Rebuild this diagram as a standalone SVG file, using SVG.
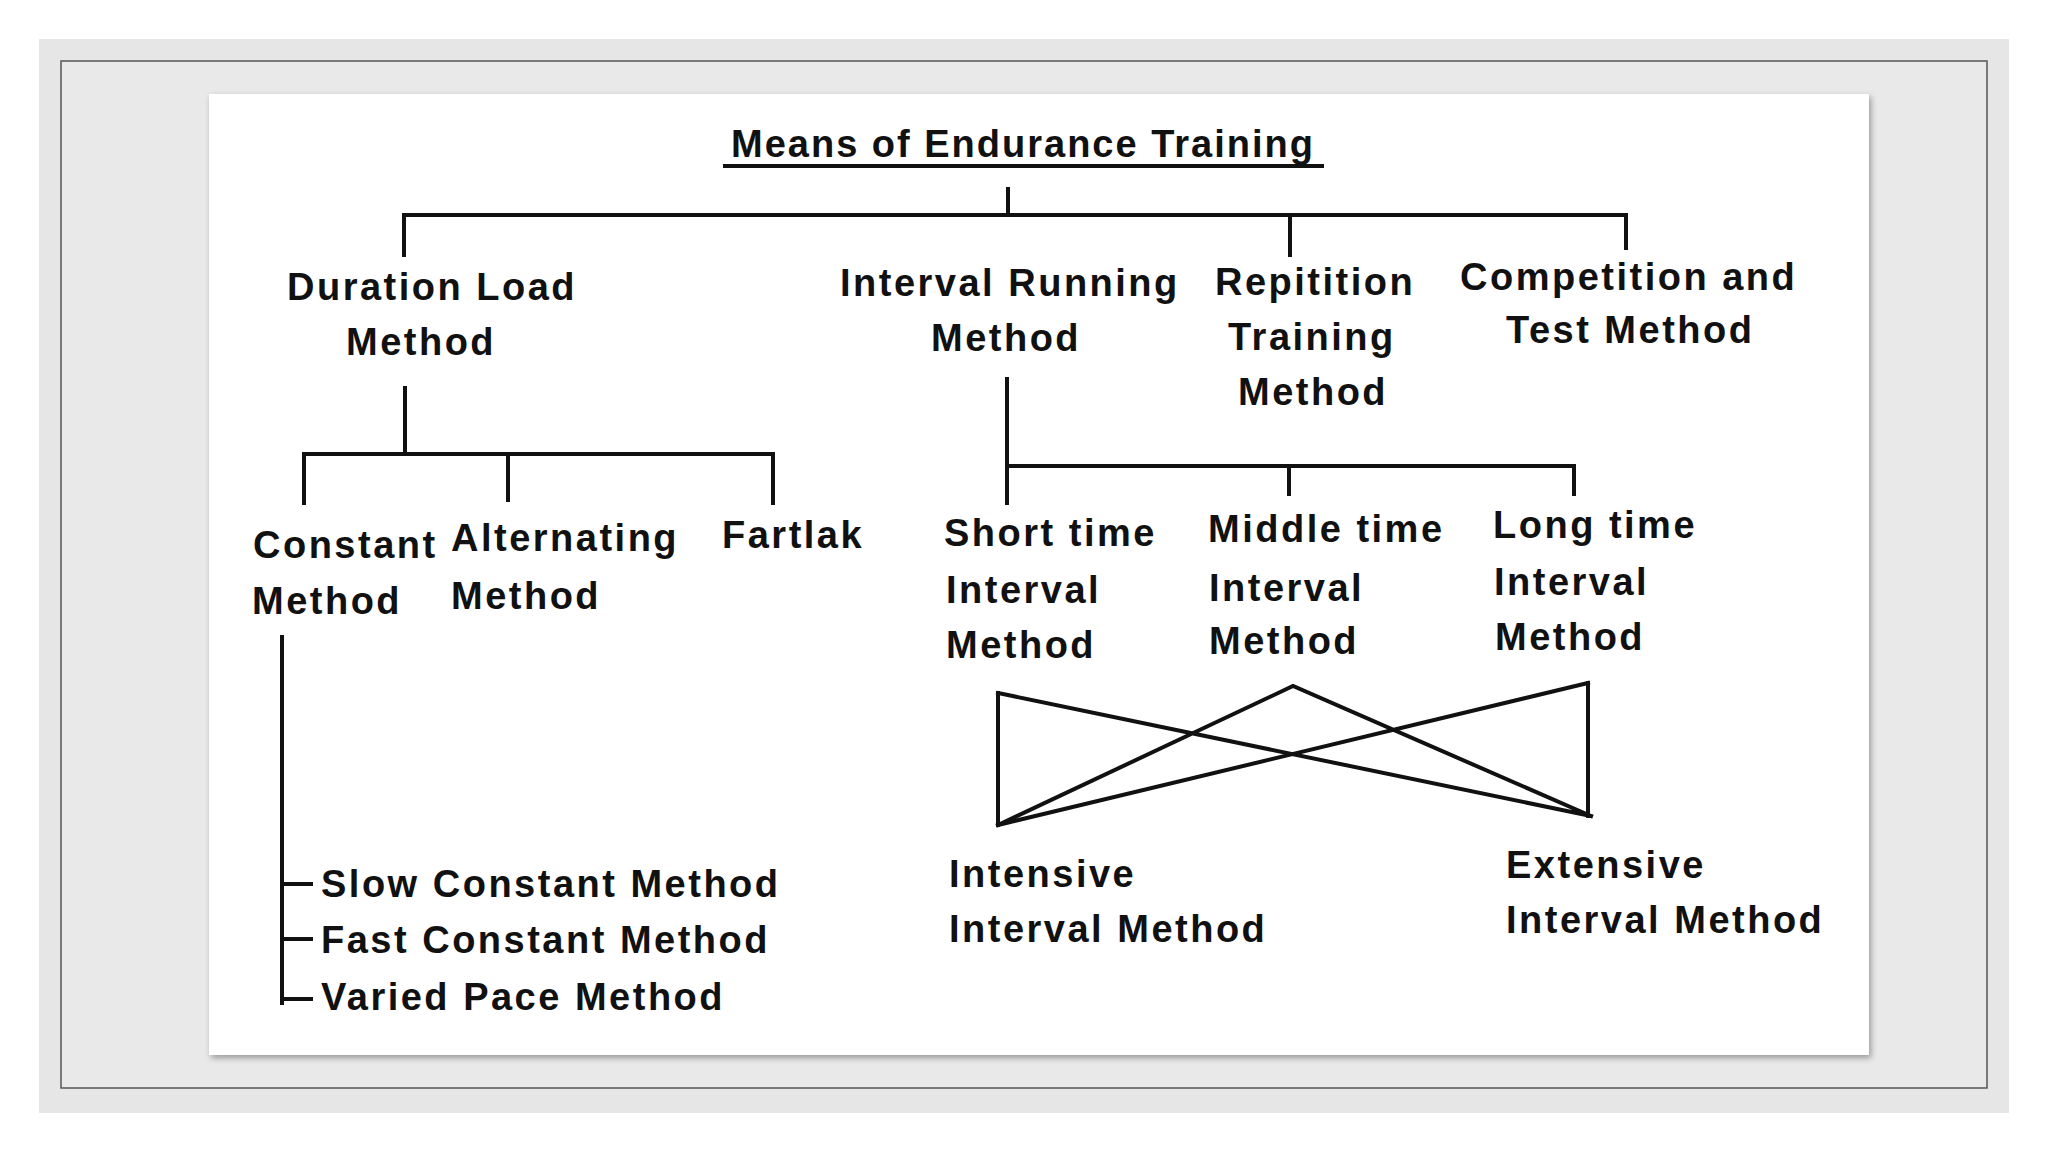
<svg xmlns="http://www.w3.org/2000/svg" width="2048" height="1152" viewBox="0 0 2048 1152">
<defs>
<style>
.t{font-family:"Liberation Sans",Arial,sans-serif;font-weight:bold;font-size:38px;fill:#111;dominant-baseline:central;letter-spacing:2.5px}
.l{stroke:#111;stroke-width:4;fill:none;stroke-linecap:square}
</style>
<filter id="sh" x="-5%" y="-5%" width="110%" height="110%"><feDropShadow dx="2" dy="3" stdDeviation="3" flood-opacity="0.35"/></filter>
</defs>
<rect x="0" y="0" width="2048" height="1152" fill="#fff"/>
<rect x="39" y="39" width="1970" height="1074" fill="#e6e6e6"/>
<rect x="61" y="61" width="1926" height="1027" fill="#e9e9e9" stroke="#555" stroke-width="1.5"/>
<rect x="209" y="94" width="1660" height="961" fill="#fff" filter="url(#sh)"/>
<g id="title"><text class="t" x="1023" y="144" text-anchor="middle" font-size="40" style="letter-spacing:2px">Means of Endurance Training</text><line class="l" x1="725" y1="166" x2="1322" y2="166" stroke-width="3"/></g>
<g id="connectors">
<path class="l" d="M1008 189V215M404 255V215H1626V248M1290 215V255"/>
<path class="l" d="M405 388V451M304 503V454H773V503M508 454V500"/>
<path class="l" d="M1007 379V503M1011 466H1574V494M1289 466V494"/>
<path class="l" d="M998 693V825M1588 683V816M998 693L1591 816M998 825L1293 686L1591 816M998 825L1588 683"/>
<path class="l" d="M282 637V1003M282 884H311M282 939H311M282 999H311"/>
</g>
<g id="n1"><text class="t" x="287" y="287">Duration Load</text><text class="t" x="346" y="342">Method</text></g>
<g id="n2"><text class="t" x="840" y="283">Interval Running</text><text class="t" x="931" y="338">Method</text></g>
<g id="n3"><text class="t" x="1215" y="282">Repitition</text><text class="t" x="1228" y="337">Training</text><text class="t" x="1238" y="392">Method</text></g>
<g id="n4"><text class="t" x="1460" y="277">Competition and</text><text class="t" x="1506" y="330">Test Method</text></g>
<g id="n5"><text class="t" x="253" y="545">Constant</text><text class="t" x="252" y="601">Method</text></g>
<g id="n6"><text class="t" x="451" y="538">Alternating</text><text class="t" x="451" y="596">Method</text></g>
<g id="n7"><text class="t" x="722" y="535">Fartlak</text></g>
<g id="n8"><text class="t" x="944" y="533">Short time</text><text class="t" x="946" y="590">Interval</text><text class="t" x="946" y="645">Method</text></g>
<g id="n9"><text class="t" x="1208" y="529">Middle time</text><text class="t" x="1209" y="588">Interval</text><text class="t" x="1209" y="641">Method</text></g>
<g id="n10"><text class="t" x="1493" y="525">Long time</text><text class="t" x="1494" y="582">Interval</text><text class="t" x="1495" y="637">Method</text></g>
<g id="n11"><text class="t" x="949" y="874">Intensive</text><text class="t" x="949" y="929">Interval Method</text></g>
<g id="n12"><text class="t" x="1506" y="865">Extensive</text><text class="t" x="1506" y="920">Interval Method</text></g>
<g id="n13"><text class="t" x="321" y="884">Slow Constant Method</text><text class="t" x="321" y="940">Fast Constant Method</text><text class="t" x="321" y="997">Varied Pace Method</text></g>
</svg>
